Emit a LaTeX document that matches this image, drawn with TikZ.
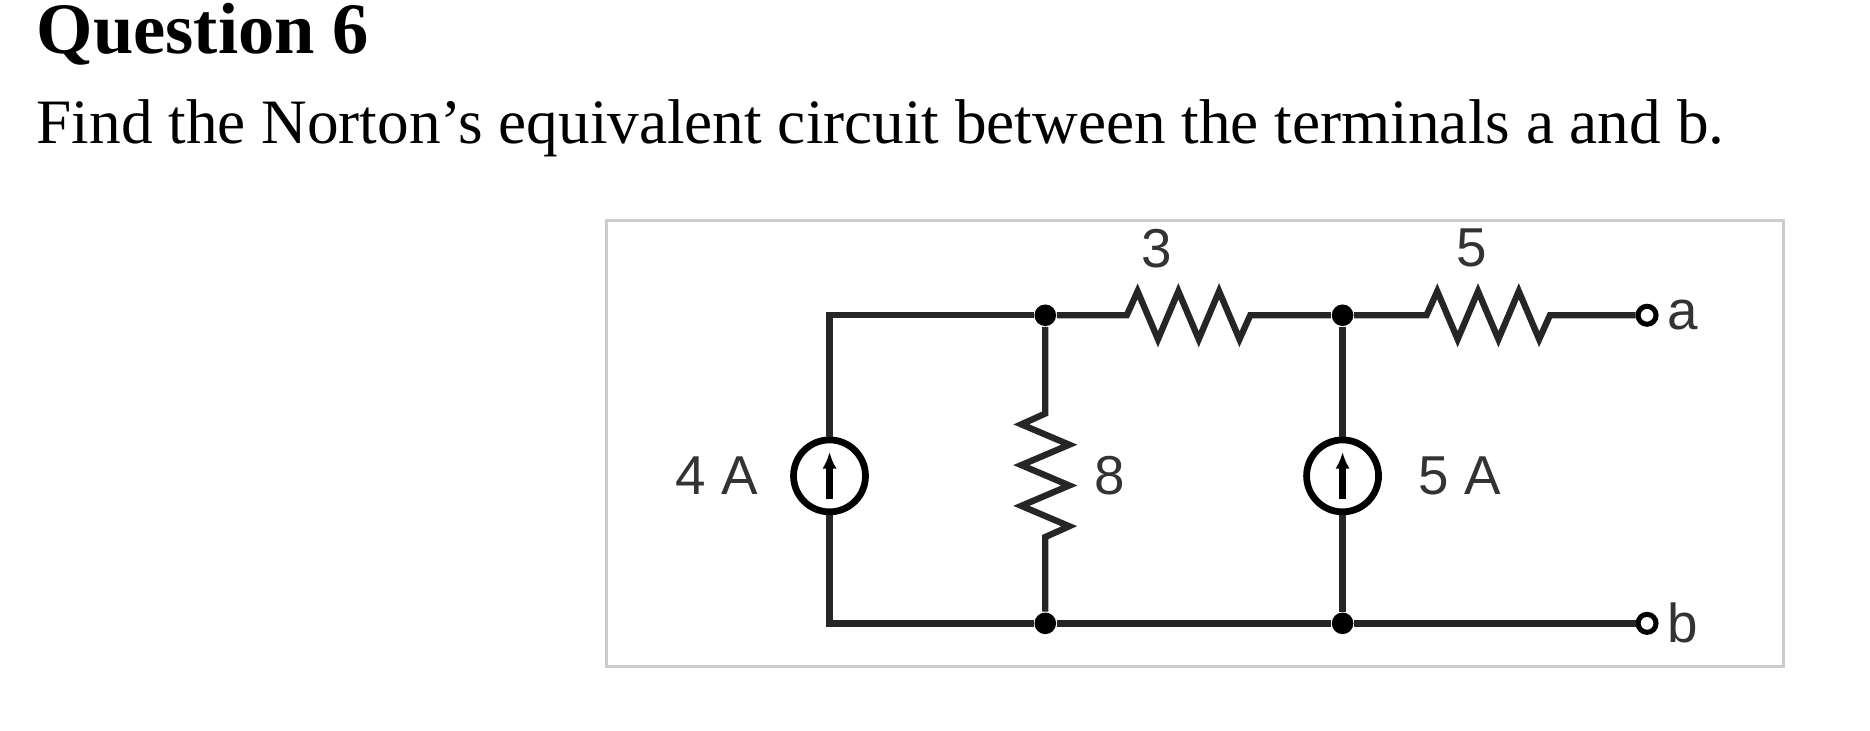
\documentclass[tikz,border=0pt]{standalone}
\usepackage{fontspec}
\usetikzlibrary{arrows.meta}
\setmainfont{Liberation Serif}
\newfontfamily\circfont{Liberation Sans}
\begin{document}
\begin{tikzpicture}[x=0.01cm,y=-0.01cm,
  wire/.style={line width=1.5pt,black!85},
  dotn/.style={circle,fill=black,inner sep=0pt,minimum size=0.18cm},
  term/.style={circle,draw,line width=1.2pt,inner sep=0pt,minimum size=0.15cm,fill=white},
  src/.style={circle,draw,line width=1.6pt,minimum size=0.6cm,inner sep=0pt},
  lab/.style={font=\circfont\fontsize{13pt}{13pt}\selectfont,text=black!80,inner sep=0pt}]
\useasboundingbox (0,0) rectangle (1560,609);
\node[anchor=base west,font=\bfseries\fontsize{17.2pt}{17.2pt}\selectfont,inner sep=0pt] (title) at (30,45) {Question 6};
\node[anchor=base west,font=\fontsize{15pt}{15pt}\selectfont,inner sep=0pt] (q) at (30,120) {Find the Norton’s equivalent circuit between the terminals a and b.};
\draw[black!20,line width=0.8pt] (506,184) rectangle (1488,556);
\coordinate (tl) at (692,263);
\coordinate (bl) at (692,520);
\node[dotn] (n1) at (872,263) {};
\node[dotn] (n2) at (1120,263) {};
\node[dotn] (n3) at (872,520) {};
\node[dotn] (n4) at (1120,520) {};
\node[src] (s1) at (692,397) {};
\node[src] (s2) at (1120,397) {};
\node[term] (ta) at (1374,263) {};
\node[term] (tb) at (1374,520) {};
\draw[wire] (s1) -- (tl) -- (n1);
\draw[wire] (s1) -- (bl) -- (n3) -- (n4) -- (tb);
\draw[wire] (n2) -- (s2) -- (n4);
\draw[wire,line join=miter] (n1) -- (940,263) -- (949,243) -- (966,283) -- (983,243) -- (1000,283) -- (1017,243) -- (1034,283) -- (1043,263) -- (n2);
\draw[wire,line join=miter] (n2) -- (1190,263) -- (1199,243) -- (1216,283) -- (1233,243) -- (1250,283) -- (1267,243) -- (1284,283) -- (1293,263) -- (ta);
\draw[wire,line join=miter] (n1) -- (872,345) -- (852,354) -- (892,371) -- (852,388) -- (892,405) -- (852,422) -- (892,439) -- (872,448) -- (n3);
\draw[line width=1.5pt,-{Latex[length=0.14cm,width=0.12cm]}] (692,416) -- (692,377);
\draw[line width=1.5pt,-{Latex[length=0.14cm,width=0.12cm]}] (1120,416) -- (1120,377);
\node[lab] (l3) at (965,207) {3};
\node[lab] (l5) at (1228,207) {5};
\node[lab] (l8) at (926,397) {8};
\node[lab] (l4A) at (598,397) {4 A};
\node[lab] (l5A) at (1218,397) {5 A};
\node[lab,anchor=west] (la) at (1390,263) {a};
\node[lab,anchor=west] (lb) at (1390,520) {b};
\end{tikzpicture}
\end{document}
